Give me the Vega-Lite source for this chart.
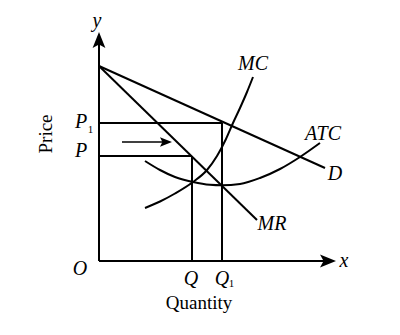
{
  "$schema": "https://vega.github.io/schema/vega-lite/v6.json",
  "autosize": "none",
  "width": 260,
  "height": 230,
  "padding": {"left": 99, "top": 31, "right": 41, "bottom": 74},
  "background": "white",
  "config": {"view": {"stroke": null}},
  "encoding": {
    "x": {"type": "quantitative", "scale": {"domain": [0, 26], "nice": false, "zero": false}, "axis": null},
    "y": {"type": "quantitative", "scale": {"domain": [0, 23], "nice": false, "zero": false}, "axis": null}
  },
  "layer": [
    {
      "data": {"values": [
        {"name": "yaxis", "x": 0, "y": 0, "x2": 0, "y2": 21.8},
        {"name": "xaxis", "x": 0, "y": 0, "x2": 22.6, "y2": 0},
        {"name": "D", "x": 0, "y": 19.5, "x2": 22.6, "y2": 9.3},
        {"name": "MR", "x": 0, "y": 19.5, "x2": 15.8, "y2": 4.1},
        {"name": "P1", "x": 0, "y": 13.8, "x2": 12.3, "y2": 13.8},
        {"name": "Q1", "x": 12.3, "y": 0, "x2": 12.3, "y2": 13.8},
        {"name": "P", "x": 0, "y": 10.5, "x2": 9.3, "y2": 10.5},
        {"name": "Q", "x": 9.3, "y": 0, "x2": 9.3, "y2": 10.5}
      ]},
      "mark": {"type": "rule", "color": "black", "strokeWidth": 2},
      "encoding": {
        "x": {"field": "x", "type": "quantitative"},
        "y": {"field": "y", "type": "quantitative"},
        "x2": {"field": "x2"},
        "y2": {"field": "y2"}
      }
    },
    {
      "data": {"values": [
        {"x": 2.3, "y": 11.9, "x2": 6.8, "y2": 11.9}
      ]},
      "mark": {"type": "rule", "color": "black", "strokeWidth": 1.3},
      "encoding": {
        "x": {"field": "x", "type": "quantitative"},
        "y": {"field": "y", "type": "quantitative"},
        "x2": {"field": "x2"},
        "y2": {"field": "y2"}
      }
    },
    {
      "data": {"values": [
        {"curve": "MC", "x": 4.6, "y": 5.3},
        {"curve": "MC", "x": 6.1, "y": 5.95},
        {"curve": "MC", "x": 7.6, "y": 6.75},
        {"curve": "MC", "x": 9.4, "y": 7.9},
        {"curve": "MC", "x": 10.8, "y": 9.1},
        {"curve": "MC", "x": 11.8, "y": 10.5},
        {"curve": "MC", "x": 12.7, "y": 12.2},
        {"curve": "MC", "x": 13.4, "y": 13.8},
        {"curve": "MC", "x": 14.1, "y": 15.3},
        {"curve": "MC", "x": 14.8, "y": 16.9},
        {"curve": "MC", "x": 15.4, "y": 18.4},
        {"curve": "ATC", "x": 4.6, "y": 10.0},
        {"curve": "ATC", "x": 6.1, "y": 9.1},
        {"curve": "ATC", "x": 7.6, "y": 8.4},
        {"curve": "ATC", "x": 9.4, "y": 7.9},
        {"curve": "ATC", "x": 11.1, "y": 7.62},
        {"curve": "ATC", "x": 12.3, "y": 7.57},
        {"curve": "ATC", "x": 14.1, "y": 7.7},
        {"curve": "ATC", "x": 16.1, "y": 8.3},
        {"curve": "ATC", "x": 18.1, "y": 9.2},
        {"curve": "ATC", "x": 20.1, "y": 10.4},
        {"curve": "ATC", "x": 22.1, "y": 11.8}
      ]},
      "mark": {"type": "line", "color": "black", "strokeWidth": 2, "interpolate": "monotone"},
      "encoding": {
        "x": {"field": "x", "type": "quantitative"},
        "y": {"field": "y", "type": "quantitative"},
        "detail": {"field": "curve"}
      }
    },
    {
      "data": {"values": [{"x": 0, "y": 22.1}]},
      "mark": {"type": "point", "shape": "M0,-1 L0.8,1 L0,0.55 L-0.8,1 Z", "size": 256, "filled": true, "color": "black", "opacity": 1},
      "encoding": {
        "x": {"field": "x", "type": "quantitative"},
        "y": {"field": "y", "type": "quantitative"}
      }
    },
    {
      "data": {"values": [{"x": 22.9, "y": 0}]},
      "mark": {"type": "point", "shape": "M1,0 L-1,0.8 L-0.55,0 L-1,-0.8 Z", "size": 256, "filled": true, "color": "black", "opacity": 1},
      "encoding": {
        "x": {"field": "x", "type": "quantitative"},
        "y": {"field": "y", "type": "quantitative"}
      }
    },
    {
      "data": {"values": [{"x": 6.7, "y": 11.9}]},
      "mark": {"type": "point", "shape": "M1,0 L-1,0.8 L-0.6,0 L-1,-0.8 Z", "size": 144, "filled": true, "color": "black", "opacity": 1},
      "encoding": {
        "x": {"field": "x", "type": "quantitative"},
        "y": {"field": "y", "type": "quantitative"}
      }
    },
    {
      "data": {"values": [
        {"t": "y", "x": -0.2, "y": 23.4},
        {"t": "MC", "x": 15.4, "y": 19.1},
        {"t": "ATC", "x": 22.4, "y": 12.1},
        {"t": "D", "x": 23.6, "y": 8.1},
        {"t": "MR", "x": 17.3, "y": 3.1},
        {"t": "O", "x": -1.9, "y": -1.4},
        {"t": "Q", "x": 9.2, "y": -2.4},
        {"t": "Q", "x": 12.3, "y": -2.4},
        {"t": "x", "x": 24.5, "y": -0.6},
        {"t": "P", "x": -1.8, "y": 13.3},
        {"t": "P", "x": -1.8, "y": 10.4}
      ]},
      "mark": {"type": "text", "font": "Liberation Serif", "fontStyle": "italic", "fontSize": 20, "align": "center", "baseline": "alphabetic", "color": "black"},
      "encoding": {
        "x": {"field": "x", "type": "quantitative"},
        "y": {"field": "y", "type": "quantitative"},
        "text": {"field": "t"}
      }
    },
    {
      "data": {"values": [
        {"t": "1", "x": 13.25, "y": -2.6},
        {"t": "1", "x": -0.85, "y": 12.8}
      ]},
      "mark": {"type": "text", "font": "Liberation Serif", "fontSize": 11, "align": "center", "baseline": "alphabetic", "color": "black"},
      "encoding": {
        "x": {"field": "x", "type": "quantitative"},
        "y": {"field": "y", "type": "quantitative"},
        "text": {"field": "t"}
      }
    },
    {
      "data": {"values": [{"t": "Quantity", "x": 10.0, "y": -4.8}]},
      "mark": {"type": "text", "font": "Liberation Serif", "fontSize": 19, "align": "center", "baseline": "alphabetic", "color": "black"},
      "encoding": {
        "x": {"field": "x", "type": "quantitative"},
        "y": {"field": "y", "type": "quantitative"},
        "text": {"field": "t"}
      }
    },
    {
      "data": {"values": [{"t": "Price", "x": -5.3, "y": 12.7}]},
      "mark": {"type": "text", "font": "Liberation Serif", "fontSize": 19, "align": "center", "baseline": "middle", "angle": 270, "color": "black"},
      "encoding": {
        "x": {"field": "x", "type": "quantitative"},
        "y": {"field": "y", "type": "quantitative"},
        "text": {"field": "t"}
      }
    }
  ]
}
